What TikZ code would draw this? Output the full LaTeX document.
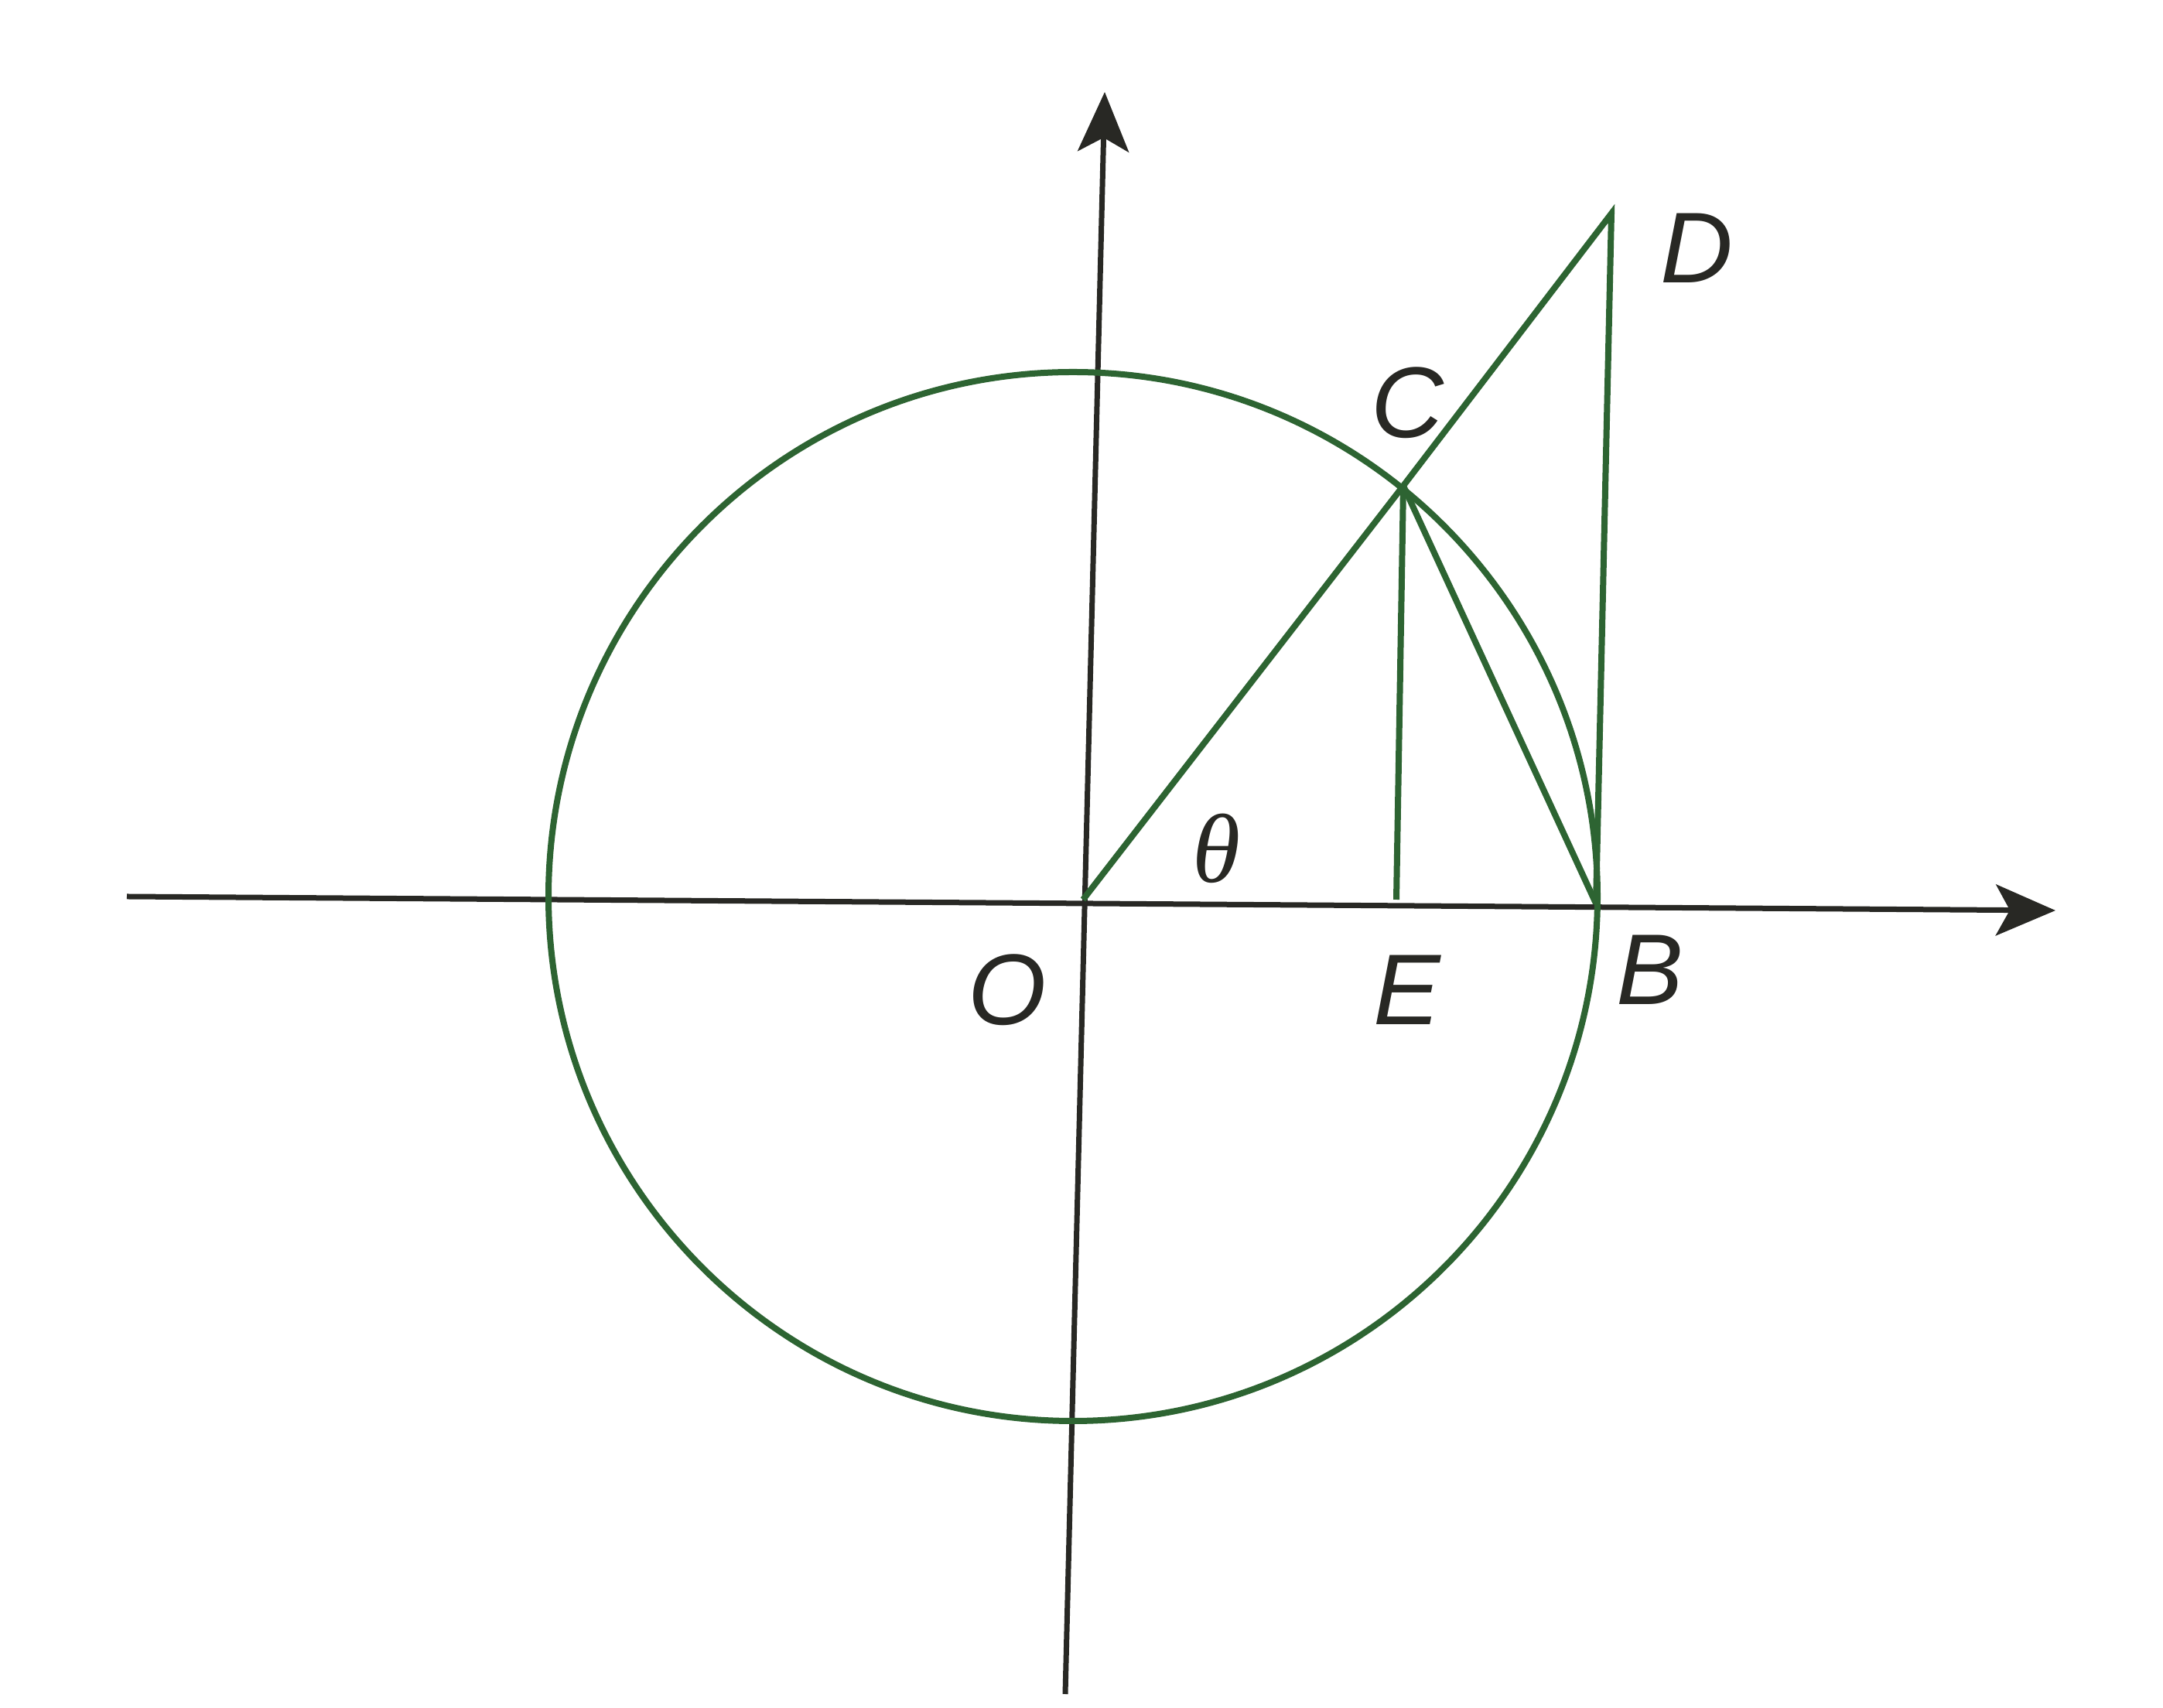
\documentclass[tikz,border=0pt]{standalone}
\usepackage{fontspec}
\setsansfont{Liberation Sans}
\newfontfamily\thetafont{Liberation Serif}
\usetikzlibrary{arrows.meta}

\begin{document}
\begin{tikzpicture}
\definecolor{line_color}{RGB}{45,100,50}
\definecolor{axis_color}{RGB}{40,40,36}
\tikzset{
  axis/.style={line width=0.07cm, draw=axis_color, -{Stealth[length=0.77cm, width=0.66cm, inset=0.18cm]}},
  geo/.style={line width=0.08cm, draw=line_color},
  lbl/.style={font=\fontsize{37}{44}\selectfont\sffamily\itshape, text=axis_color, inner sep=0pt}
}
\useasboundingbox (0,0) rectangle (27.96,22.08);

\coordinate (xstart) at (1.64,10.49);
\coordinate (xend) at (26.57,10.31);
\coordinate (ystart) at (13.77,0.18);
\coordinate (yend) at (14.28,20.89);
\coordinate (O) at (14.00,10.45);
\coordinate (C) at (18.14,15.80);
\coordinate (D) at (20.83,19.32);
\coordinate (E) at (18.05,10.45);
\coordinate (B) at (20.63,10.40);

\draw[axis] (xstart) -- (xend);
\draw[axis] (ystart) -- (yend);

\draw[geo] (13.87,10.49) circle (6.78);
\draw[geo] (O) -- (C) -- (D) -- (B);
\draw[geo] (C) -- (E);
\draw[geo] (C) -- (B);

\node[lbl] (labelD) at (21.93,18.87) {D};
\node[lbl] (labelC) at (18.19,16.87) {C};
\node[lbl] (labelO) at (13.02,9.28) {O};
\node[lbl] (labelE) at (18.19,9.28) {E};
\node[lbl] (labelB) at (21.33,9.54) {B};
\node[inner sep=0pt, text=axis_color, font=\fontsize{36}{42}\selectfont\thetafont\itshape] (theta) at (15.73,11.11) {θ};

\end{tikzpicture}
\end{document}
